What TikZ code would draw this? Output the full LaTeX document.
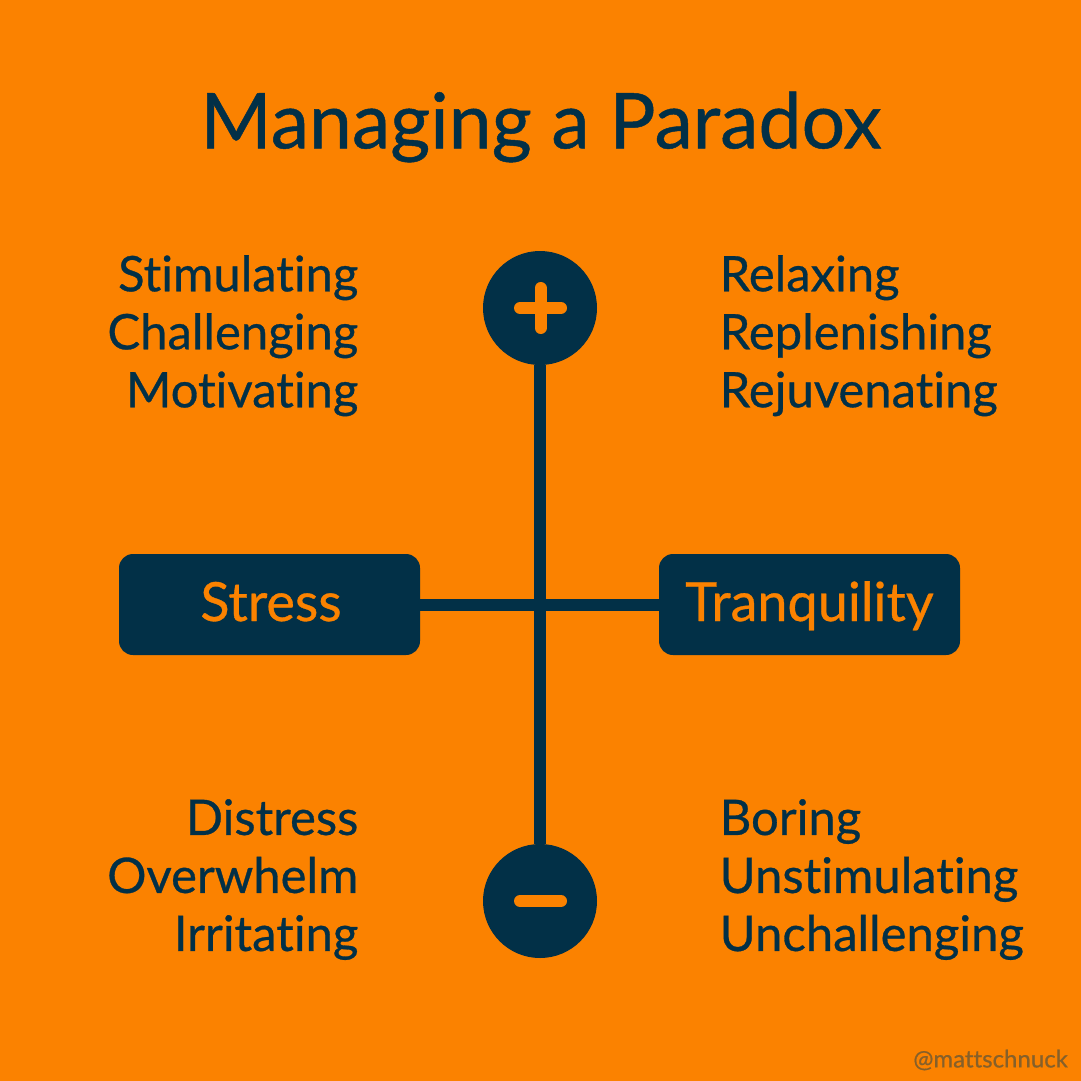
\documentclass[tikz,border=0pt]{standalone}
\usepackage{fontspec}
\setmainfont{Lato}[Ligatures={NoCommon},FakeBold=0.6]
\definecolor{bgor}{HTML}{FB8200}
\definecolor{navy}{HTML}{023047}
\definecolor{greyt}{HTML}{86602A}
\tikzset{
 lab/.style={font=\fontsize{49}{58}\selectfont, text=navy, inner sep=0pt},
 leftlab/.style={lab, align=right, anchor=north east},
 rightlab/.style={lab, align=left, anchor=north west},
 box/.style={fill=navy, rounded corners=14pt, minimum width=301pt, minimum height=101pt, inner sep=0pt, text=bgor, font=\fontsize{54}{60}\selectfont, text height=33pt, text depth=0pt},
 disc/.style={circle, fill=navy, minimum size=114pt, inner sep=0pt},
 conn/.style={draw=navy, line width=12pt},
 sym/.style={draw=bgor, line width=12pt, line cap=round}
}
\begin{document}
\begin{tikzpicture}[x=1pt,y=-1pt]
\fill[bgor] (0,0) rectangle (1081,1081);
\useasboundingbox (0,0) rectangle (1081,1081);
\node[font=\fontsize{77}{80}\selectfont, text=navy] (title) at (541,127) {Managing a Paradox};
\node[disc] (plus) at (540,308) {};
\node[disc] (minus) at (540,901) {};
\node[box] (stress) at (269.5,604.5) {\hspace*{3pt}Stress};
\node[box] (tranq) at (809.5,604.5) {Tranquility};
\draw[conn] (plus) -- (minus);
\draw[conn] (stress) -- (tranq);
\coordinate (pa) at (520,308); \coordinate (pb) at (561,308);
\coordinate (pc) at (540.5,288); \coordinate (pd) at (540.5,328);
\draw[sym] (pa) -- (pb);
\draw[sym] (pc) -- (pd);
\coordinate (ma) at (520,901); \coordinate (mb) at (561,901);
\draw[sym] (ma) -- (mb);
\node[leftlab] (tl) at (358.5,255) {Stimulating\\Challenging\\Motivating};
\node[rightlab] (tr) at (719.5,255) {Relaxing\\Replenishing\\Rejuvenating};
\node[leftlab] (bl) at (358.5,799) {Distress\\Overwhelm\\Irritating};
\node[rightlab] (br) at (719.5,799) {Boring\\Unstimulating\\Unchallenging};
\node[font=\fontsize{24}{28}\selectfont, text=greyt, anchor=east, inner sep=0pt] (credit) at (1068,1060) {@mattschnuck};
\end{tikzpicture}
\end{document}
